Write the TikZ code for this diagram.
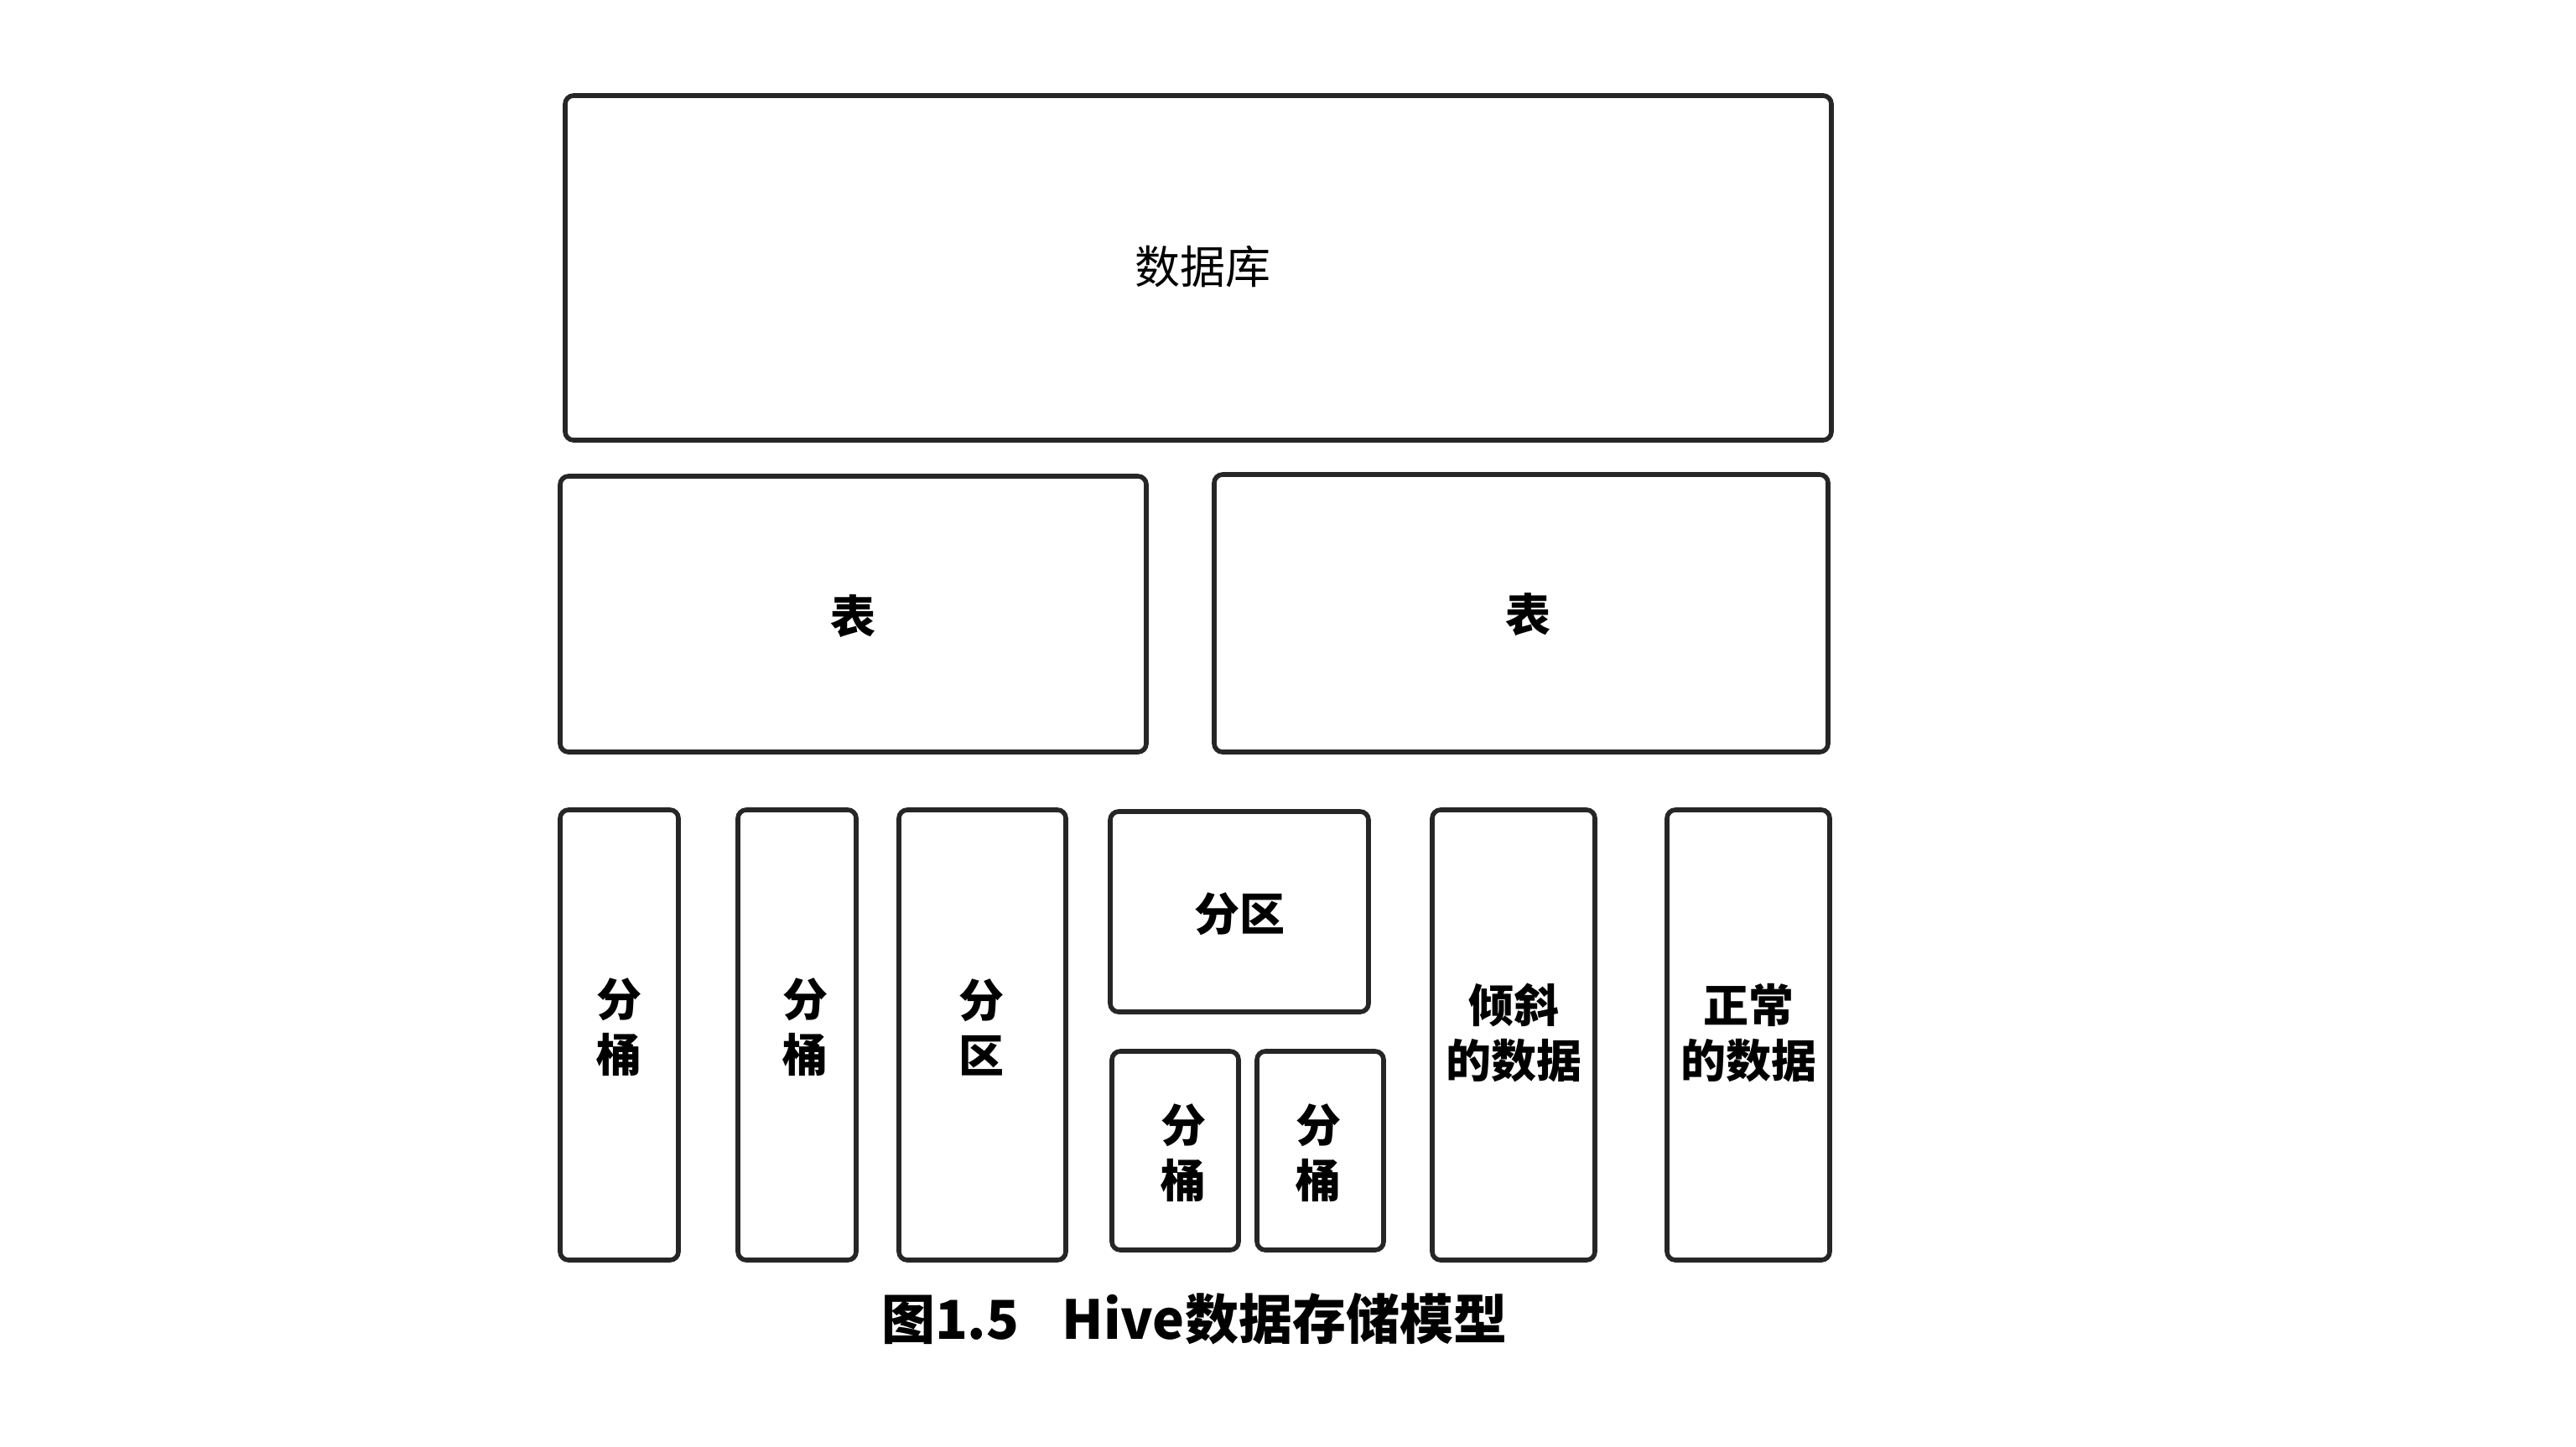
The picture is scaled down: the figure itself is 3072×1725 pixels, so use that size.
\documentclass[tikz,border=0pt]{standalone}
\usepackage{fontspec}
\newfontfamily\cjk{Noto Sans CJK SC}
\begin{document}
\begin{tikzpicture}[x=0.5pt,y=-0.5pt,
  box/.style={draw=black!85,line width=2.8pt,rounded corners=5pt},
  lab/.style={font=\cjk\fontsize{27}{33}\selectfont\bfseries,align=center,text=black},
  dblab/.style={font=\cjk\fontsize{27}{33}\selectfont,align=center,text=black}]
\useasboundingbox[fill=white] (0,0) rectangle (3072,1725);
% database
\draw[box] (674,114) rectangle (2184,525);
\node[dblab] (db) at (1434,318) {数据库};
% tables
\draw[box] (668,568) rectangle (1367,897);
\node[lab] (t1) at (1017,735) {表};
\draw[box] (1448,566) rectangle (2180,897);
\node[lab] (t2) at (1822,733) {表};
% bottom row
\draw[box] (668,966) rectangle (809,1503);
\node[lab] (b1) at (738,1225) {分\\桶};
\draw[box] (880,966) rectangle (1021,1503);
\node[lab] (b2) at (960,1225) {分\\桶};
\draw[box] (1072,966) rectangle (1271,1503);
\node[lab] (p1) at (1170,1225) {分\\区};
\draw[box] (1324,968) rectangle (1632,1207);
\node[lab] (p2) at (1478,1090) {分区};
\draw[box] (1326,1254) rectangle (1477,1491);
\node[lab] (b3) at (1411,1375) {分\\桶};
\draw[box] (1499,1254) rectangle (1650,1491);
\node[lab] (b4) at (1572,1375) {分\\桶};
\draw[box] (1708,966) rectangle (1902,1503);
\node[lab] (sk) at (1805,1232) {倾斜\\的数据};
\draw[box] (1988,966) rectangle (2182,1503);
\node[lab] (nm) at (2085,1232) {正常\\的数据};
% caption
\node[font=\cjk\fontsize{32}{40}\selectfont\bfseries,text=black] (cap) at (1424,1573) {图1.5\hspace{0.8em}Hive数据存储模型};
\end{tikzpicture}
\end{document}
